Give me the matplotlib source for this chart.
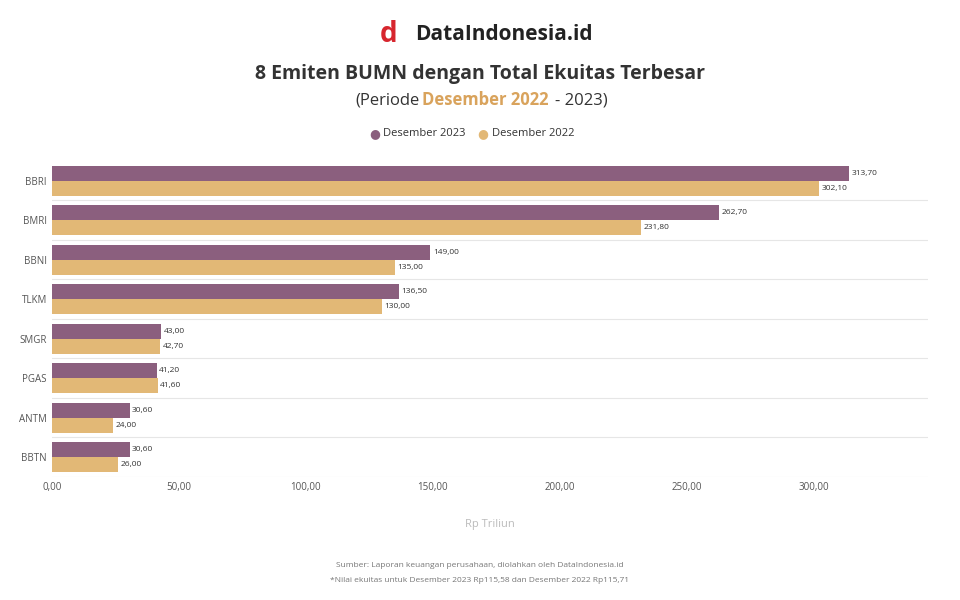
import numpy as np
import matplotlib.pyplot as plt

plt.rcParams['font.family'] = ['Open Sans', 'DejaVu Sans']

# Data (Rp triliun)
emiten = ['BBRI', 'BMRI', 'BBNI', 'TLKM', 'SMGR', 'PGAS', 'ANTM', 'BBTN']
des_2023 = [313.7, 262.7, 149.0, 136.5, 43.0, 41.2, 30.6, 30.6]
des_2022 = [302.1, 231.8, 135.0, 130.0, 42.7, 41.6, 24.0, 26.0]
xticks = [0, 50, 100, 150, 200, 250, 300]

purple = '#8b5f7e'
gold = '#e2b876'

fig = plt.figure(figsize=(9.6, 6.0), dpi=100)
ax = fig.add_axes([0.054, 0.205, 0.913, 0.53])

y = np.arange(len(emiten))
h = 0.38
ax.barh(y - h / 2, des_2023, height=h, color=purple)
ax.barh(y + h / 2, des_2022, height=h, color=gold)

fmt = lambda v: f"{v:,.2f}".replace('.', ',')
for yi, a, b in zip(y, des_2023, des_2022):
    ax.text(a + 1, yi - h / 2, fmt(a), va='center', fontsize=6, color='#333')
    ax.text(b + 1, yi + h / 2, fmt(b), va='center', fontsize=6, color='#333')

ax.set_yticks(y)
ax.set_yticklabels(emiten, fontsize=7, color='#555')
ax.set_ylim(len(emiten) - 0.5, -0.55)
ax.set_xlim(0, 345)
ax.set_xticks(xticks)
ax.set_xticklabels([fmt(t) for t in xticks], fontsize=7, color='#555')
ax.tick_params(length=0)
for yi in y:
    ax.axhline(yi + 0.5, color='#e6e6e6', lw=0.8, zorder=0)
for s in ax.spines.values():
    s.set_visible(False)

# header
fig.text(0.405, 0.942, 'd', fontsize=20, fontweight='bold', color='#d7262e', ha='center', va='center')
fig.text(0.432, 0.942, 'DataIndonesia.id', fontsize=15, fontweight='bold', color='#222', va='center')
fig.text(0.5, 0.877, '8 Emiten BUMN dengan Total Ekuitas Terbesar', fontsize=14,
         fontweight='bold', color='#333', ha='center', va='center')
fig.text(0.437, 0.833, '(Periode', fontsize=12, color='#333', va='center', ha='right')
fig.text(0.440, 0.833, 'Desember 2022', fontsize=12, fontweight='bold', color='#d9a35c', va='center')
fig.text(0.578, 0.833, '- 2023)', fontsize=12, color='#333', va='center')

fig.text(0.39, 0.778, '●', fontsize=9, color=purple, ha='center', va='center')
fig.text(0.399, 0.778, 'Desember 2023', fontsize=8, color='#333', va='center')
fig.text(0.503, 0.778, '●', fontsize=9, color=gold, ha='center', va='center')
fig.text(0.512, 0.778, 'Desember 2022', fontsize=8, color='#333', va='center')

fig.text(0.51, 0.125, 'Rp Triliun', fontsize=8, color='#bbb', ha='center', va='center')
fig.text(0.5, 0.057, 'Sumber: Laporan keuangan perusahaan, diolahkan oleh DataIndonesia.id',
         fontsize=6, color='#777', ha='center', va='center')
fig.text(0.5, 0.032, '*Nilai ekuitas untuk Desember 2023 Rp115,58 dan Desember 2022 Rp115,71',
         fontsize=6, color='#777', ha='center', va='center')

fig.savefig('out.png', dpi=100, facecolor='white')
